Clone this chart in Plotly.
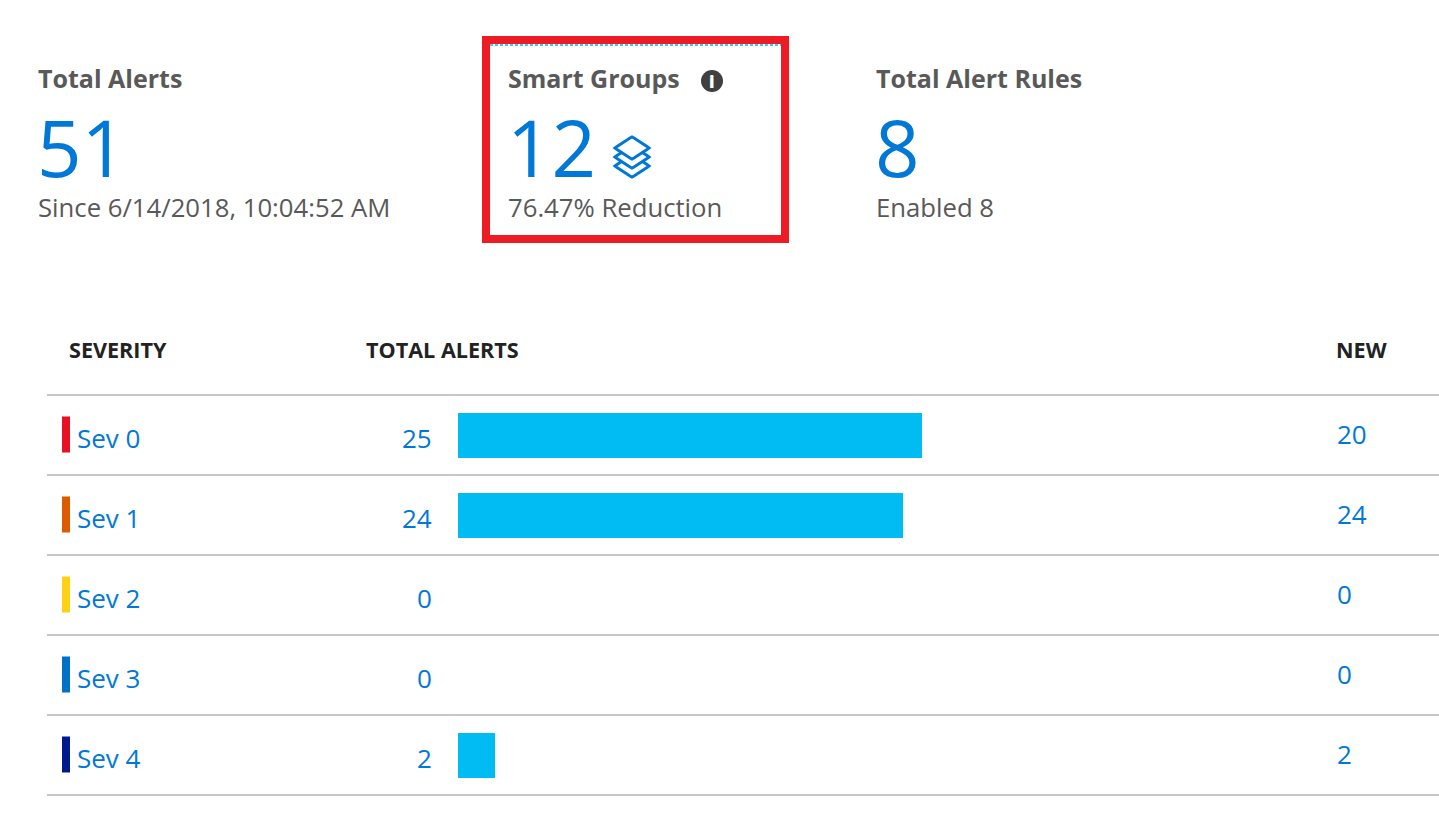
import plotly.graph_objects as go

W = 1439
H = 833

severities = ['Sev 0', 'Sev 1', 'Sev 2', 'Sev 3', 'Sev 4']
total_alerts = [25, 24, 0, 0, 2]
new_alerts = [20, 24, 0, 0, 2]
sev_colors = ['#E81123', '#DC5A00', '#FCD116', '#0072C6', '#001A8C']

card_titles = ['Total Alerts', 'Smart Groups', 'Total Alert Rules']
card_values = ['51', '12', '8']
card_notes = ['Since 6/14/2018, 10:04:52 AM', '76.47% Reduction', 'Enabled 8']
card_left = [37, 507, 875]
card_value_left = [36, 506, 874]

BLUE = '#0078D7'
GREY = '#595959'
FONT = 'Open Sans'


def px_x(x):
    return x / W


def px_y(y):
    return 1 - y / H


def add_text(fig, x, y, text, size, color, weight=400, anchor='left'):
    fig.add_annotation(x=px_x(x), y=px_y(y), xref='paper', yref='paper', text=text, showarrow=False,
                       xanchor=anchor, yanchor='middle', borderpad=0,
                       font=dict(family=FONT, size=size, color=color, weight=weight))


def add_line(fig, x0, y0, x1, y1, color, width, dash='solid'):
    fig.add_shape(type='line', xref='paper', yref='paper', x0=px_x(x0), x1=px_x(x1), y0=px_y(y0), y1=px_y(y1),
                  line=dict(color=color, width=width, dash=dash))


def diamond_path(top):
    # rounded corners, so the stack icon does not look too sharp
    l, c, r = 615, 632, 649
    mid, bot = top + 11, top + 22
    pts = [(l + 2, mid - 1.5), (c - 2, top + 1), (c, top), (c + 2, top + 1), (r - 2, mid - 1.5), (r, mid), (r - 2, mid + 1.5),
           (c + 2, bot - 1), (c, bot), (c - 2, bot - 1), (l + 2, mid + 1.5), (l, mid)]
    return 'M %f %f ' % (px_x(pts[0][0]), px_y(pts[0][1])) + ' '.join(
        'L %f %f' % (px_x(a), px_y(b)) for a, b in pts[1:]) + ' Z'


fig = go.Figure()
fig.add_trace(go.Bar(x=total_alerts, y=severities, orientation='h', marker=dict(color='#00BCF2', line_width=0),
                     width=0.5625, hoverinfo='skip', showlegend=False))

# cards at the top
for i in range(3):
    add_text(fig, card_left[i], 78, card_titles[i], 25, GREY, 700)
    add_text(fig, card_value_left[i], 147, card_values[i], 78, BLUE, 400)
    add_text(fig, card_left[i], 208, card_notes[i], 25.7, GREY, 400)

# red box around smart groups
fig.add_shape(type='rect', xref='paper', yref='paper', x0=px_x(486), x1=px_x(785), y0=px_y(40), y1=px_y(239),
              line=dict(color='#ED1C24', width=8), fillcolor='rgba(0,0,0,0)')
add_line(fig, 490, 45, 781, 45, '#00BCF2', 1.5, '3px,2px')

# info icon
fig.add_shape(type='circle', xref='paper', yref='paper', x0=px_x(701), x1=px_x(723), y0=px_y(70), y1=px_y(92),
              fillcolor='#404040', line_width=0)
add_text(fig, 712, 81, 'i', 17, 'white', 800, 'center')

# stack icon, bottom layer first
for top in [155, 146, 137]:
    fig.add_shape(type='path', xref='paper', yref='paper', path=diamond_path(top),
                  line=dict(color=BLUE, width=3), fillcolor='white')

# table header
add_text(fig, 68, 349, 'SEVERITY', 21.6, '#222222', 700)
add_text(fig, 365, 349, 'TOTAL ALERTS', 21.6, '#222222', 700)
add_text(fig, 1335, 349, 'NEW', 21.6, '#222222', 700)

# row lines
for y in [395, 475, 555, 635, 715, 795]:
    add_line(fig, 47, y, 1439, y, '#C8C8C8', 2)

# rows
for i, sev in enumerate(severities):
    fig.add_shape(type='rect', xref='paper', yref='y', x0=px_x(62), x1=px_x(70), y0=i - 0.225, y1=i + 0.225,
                  fillcolor=sev_colors[i], line_width=0)
    row_font = dict(family=FONT, size=26, color=BLUE, weight=500)
    fig.add_annotation(x=px_x(75), y=sev, xref='paper', yref='y', text=sev, showarrow=False, xanchor='left',
                       yanchor='middle', yshift=-3, font=row_font)
    fig.add_annotation(x=px_x(434), y=sev, xref='paper', yref='y', text=str(total_alerts[i]), showarrow=False,
                       xanchor='right', yanchor='middle', yshift=-3, font=row_font)
    fig.add_annotation(x=px_x(1335), y=sev, xref='paper', yref='y', text=str(new_alerts[i]), showarrow=False,
                       xanchor='left', yanchor='middle', yshift=1, font=row_font)

fig.update_layout(
    width=W, height=H, margin=dict(l=0, r=0, t=0, b=0), paper_bgcolor='white', plot_bgcolor='white',
    bargap=0, showlegend=False,
    xaxis=dict(domain=[458 / W, 1], range=[0, (W - 458) / 18.56], visible=False, fixedrange=True),
    yaxis=dict(domain=[px_y(794.5), px_y(394.5)], categoryorder='array', categoryarray=severities,
               autorange='reversed', visible=False, fixedrange=True),
)

fig.write_html("out.html", post_script="document.body.style.margin='0';", config={'displayModeBar': False})
